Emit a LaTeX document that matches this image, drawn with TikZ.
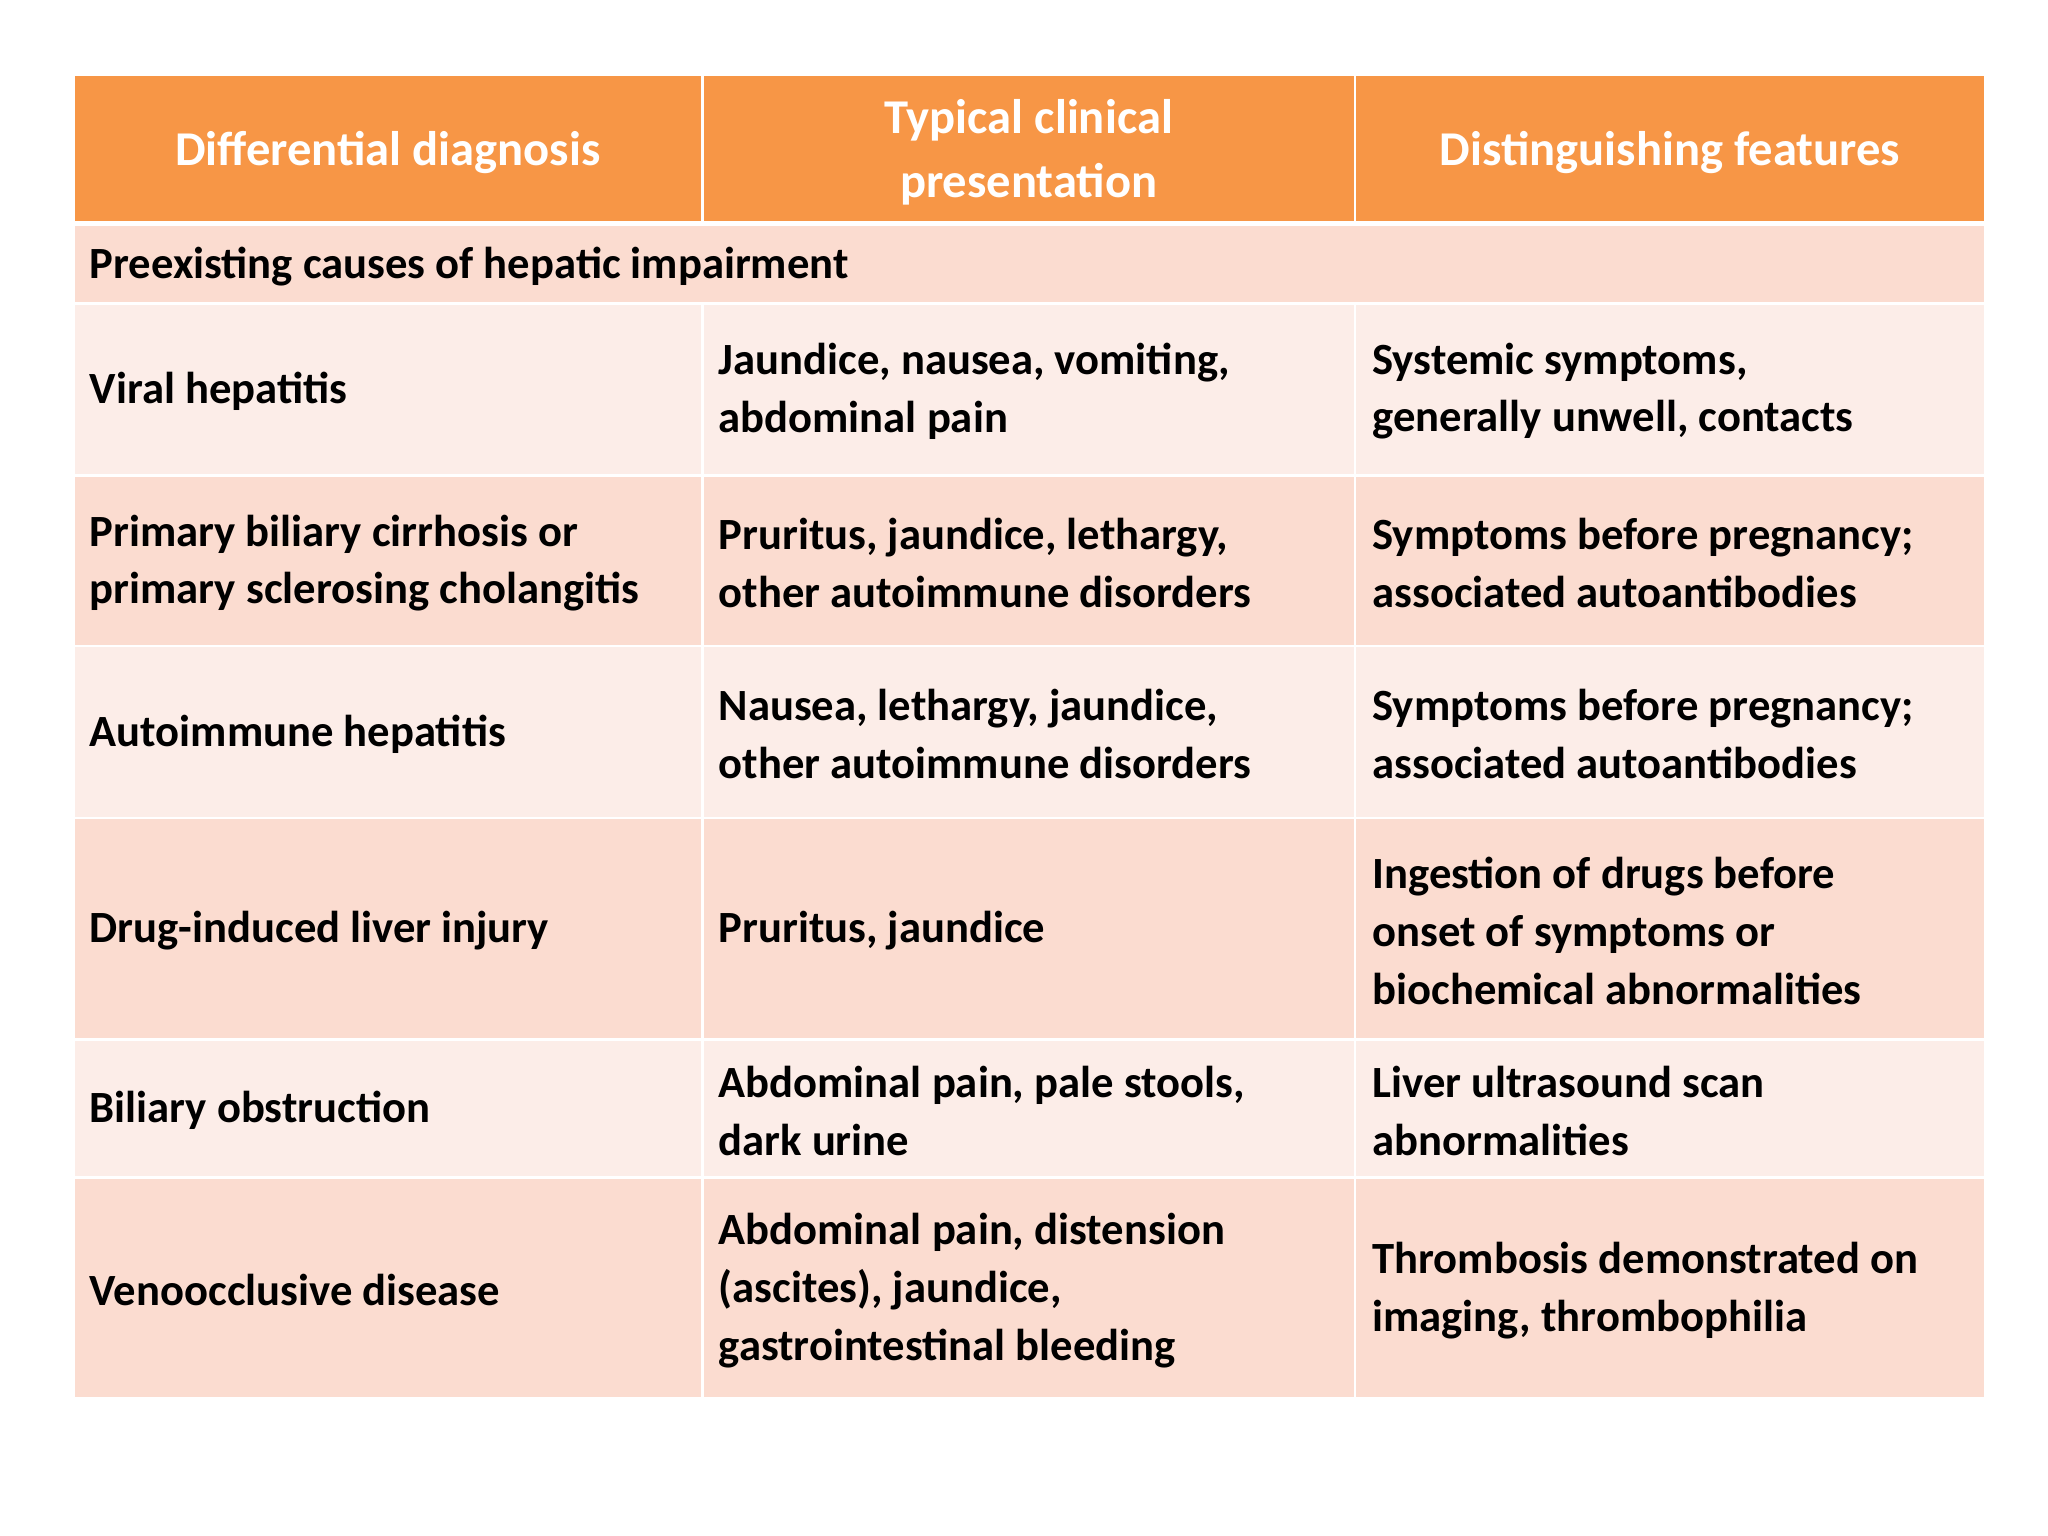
\documentclass[tikz,border=0pt]{standalone}
\usepackage{fontspec}
\setmainfont{Carlito}
\definecolor{hdr}{HTML}{F79646}
\definecolor{dk}{HTML}{FBDCD0}
\definecolor{lt}{HTML}{FCEDE8}
\begin{document}
\begin{tikzpicture}[x=0.5pt,y=-0.5pt,
  cell/.style={anchor=west,align=left,inner sep=0pt,font=\bfseries\fontsize{17}{22}\selectfont,text=black},
  hcell/.style={align=center,inner sep=0pt,font=\bfseries\fontsize{18.5}{24.5}\selectfont,text=white}]
\useasboundingbox (0,0) rectangle (1560,1170);
\fill[white] (0,0) rectangle (1560,1170);
% header
\fill[hdr] (57,58) rectangle (534,168);
\fill[hdr] (536,58) rectangle (1031,168);
\fill[hdr] (1033,58) rectangle (1511,168);
\node[hcell] (h1) at (295.5,116) {Differential diagnosis};
\node[hcell] (h2) at (783.5,116) {Typical clinical\\presentation};
\node[hcell] (h3) at (1272,116) {Distinguishing features};
% section
\fill[dk] (57,172) rectangle (1511,230);
\node[cell] (s) at (68,203) {Preexisting causes of hepatic impairment};
% rows
\foreach \ya/\yb/\c [count=\i] in {232/361/lt,363/491/dk,493/622/lt,624/791/dk,793/896/lt,898/1064/dk}{
  \fill[\c] (57,\ya) rectangle (534,\yb);
  \fill[\c] (536,\ya) rectangle (1031,\yb);
  \fill[\c] (1033,\ya) rectangle (1511,\yb);
}
\node[cell] (a1) at (68,298) {Viral hepatitis};
\node[cell] (b1) at (547,298) {Jaundice, nausea, vomiting,\\abdominal pain};
\node[cell] (c1) at (1045,298) {Systemic symptoms,\\generally unwell, contacts};
\node[cell] (a2) at (68,429) {Primary biliary cirrhosis or\\primary sclerosing cholangitis};
\node[cell] (b2) at (547,429) {Pruritus, jaundice, lethargy,\\other autoimmune disorders};
\node[cell] (c2) at (1045,429) {Symptoms before pregnancy;\\associated autoantibodies};
\node[cell] (a3) at (68,559) {Autoimmune hepatitis};
\node[cell] (b3) at (547,559) {Nausea, lethargy, jaundice,\\other autoimmune disorders};
\node[cell] (c3) at (1045,559) {Symptoms before pregnancy;\\associated autoantibodies};
\node[cell] (a4) at (68,709) {Drug-induced liver injury};
\node[cell] (b4) at (547,709) {Pruritus, jaundice};
\node[cell] (c4) at (1045,709) {Ingestion of drugs before\\onset of symptoms or\\biochemical abnormalities};
\node[cell] (a5) at (68,846) {Biliary obstruction};
\node[cell] (b5) at (547,846) {Abdominal pain, pale stools,\\dark urine};
\node[cell] (c5) at (1045,846) {Liver ultrasound scan\\abnormalities};
\node[cell] (a6) at (68,983) {Venoocclusive disease};
\node[cell] (b6) at (547,983) {Abdominal pain, distension\\(ascites), jaundice,\\gastrointestinal bleeding};
\node[cell] (c6) at (1045,983) {Thrombosis demonstrated on\\imaging, thrombophilia};
\end{tikzpicture}
\end{document}
